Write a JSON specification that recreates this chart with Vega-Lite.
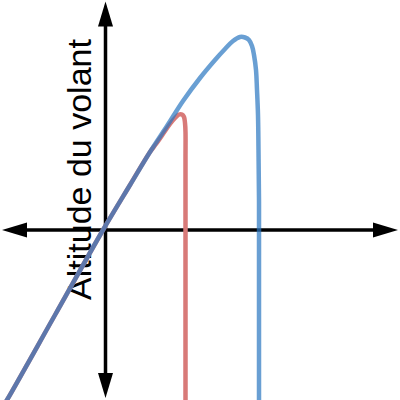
{
  "$schema": "https://vega.github.io/schema/vega-lite/v6.json",
  "description": "Trajectoires du volant : deux courbes partant de l'origine, axes fléchés.",
  "width": 400,
  "height": 400,
  "padding": 0,
  "autosize": {"type": "fit", "contains": "padding"},
  "config": {"view": {"stroke": null}, "background": "#ffffff"},
  "datasets": {
    "trajectoires": [
      {"serie": "rouge", "x": -110.5, "y": -190},
      {"serie": "rouge", "x": -98.5, "y": -170},
      {"serie": "rouge", "x": -50.5, "y": -85},
      {"serie": "rouge", "x": -2.5, "y": 0},
      {"serie": "rouge", "x": 24.5, "y": 45},
      {"serie": "rouge", "x": 44.5, "y": 78},
      {"serie": "rouge", "x": 50.5, "y": 86},
      {"serie": "rouge", "x": 57.5, "y": 96},
      {"serie": "rouge", "x": 64.5, "y": 106},
      {"serie": "rouge", "x": 69.5, "y": 112},
      {"serie": "rouge", "x": 73.5, "y": 115.5},
      {"serie": "rouge", "x": 76.5, "y": 115.5},
      {"serie": "rouge", "x": 78.5, "y": 113},
      {"serie": "rouge", "x": 79.5, "y": 107},
      {"serie": "rouge", "x": 80, "y": 98},
      {"serie": "rouge", "x": 80, "y": 70},
      {"serie": "rouge", "x": 80, "y": -190},
      {"serie": "bleu", "x": -110.5, "y": -190},
      {"serie": "bleu", "x": -98.5, "y": -170},
      {"serie": "bleu", "x": -50.5, "y": -85},
      {"serie": "bleu", "x": -2.5, "y": 0},
      {"serie": "bleu", "x": 24.5, "y": 45},
      {"serie": "bleu", "x": 44.5, "y": 78},
      {"serie": "bleu", "x": 61.5, "y": 104},
      {"serie": "bleu", "x": 77.5, "y": 129},
      {"serie": "bleu", "x": 94.5, "y": 152},
      {"serie": "bleu", "x": 109.5, "y": 170},
      {"serie": "bleu", "x": 119.5, "y": 181},
      {"serie": "bleu", "x": 127.5, "y": 189},
      {"serie": "bleu", "x": 134.5, "y": 193},
      {"serie": "bleu", "x": 139.5, "y": 192.5},
      {"serie": "bleu", "x": 143.5, "y": 190},
      {"serie": "bleu", "x": 146.5, "y": 184},
      {"serie": "bleu", "x": 148.5, "y": 175},
      {"serie": "bleu", "x": 150.5, "y": 160},
      {"serie": "bleu", "x": 151.5, "y": 140},
      {"serie": "bleu", "x": 152.5, "y": 115},
      {"serie": "bleu", "x": 153, "y": 80},
      {"serie": "bleu", "x": 153.5, "y": 30},
      {"serie": "bleu", "x": 153.5, "y": -40},
      {"serie": "bleu", "x": 153.5, "y": -190}
    ],
    "axes": [
      {"x": 0, "y": -150, "x2": 0, "y2": 210},
      {"x": -85.5, "y": 0, "x2": 274.5, "y2": 0}
    ],
    "fleches": [
      {"dir": "haut", "x": 0, "y": 216},
      {"dir": "bas", "x": 0, "y": -155.5},
      {"dir": "gauche", "x": -91, "y": 0},
      {"dir": "droite", "x": 280, "y": 0}
    ]
  },
  "encoding": {
    "x": {
      "field": "x",
      "type": "quantitative",
      "scale": {"domain": [-105.5, 294.5], "nice": false, "zero": false},
      "axis": null
    },
    "y": {
      "field": "y",
      "type": "quantitative",
      "scale": {"domain": [-170, 230], "nice": false, "zero": false},
      "axis": {
        "title": "Altitude du volant",
        "domain": false,
        "ticks": false,
        "labels": false,
        "grid": false,
        "titleX": 90,
        "titleY": 169,
        "titleAngle": -90,
        "titleAlign": "center",
        "titleBaseline": "alphabetic",
        "titleFont": "Liberation Sans",
        "titleFontSize": 34,
        "titleFontWeight": "normal",
        "titleColor": "#000000"
      }
    }
  },
  "layer": [
    {
      "data": {"name": "axes"},
      "mark": {"type": "rule", "color": "#000000", "strokeWidth": 3.5},
      "encoding": {
        "x2": {"field": "x2"},
        "y2": {"field": "y2"}
      }
    },
    {
      "data": {"name": "fleches"},
      "mark": {"type": "point", "filled": true, "color": "#000000", "opacity": 1, "size": 625, "strokeWidth": 0},
      "encoding": {
        "shape": {
          "field": "dir",
          "type": "nominal",
          "scale": {
            "domain": ["haut", "bas", "gauche", "droite"],
            "range": [
              "M0,-1L0.6,1L-0.6,1Z",
              "M0,1L0.6,-1L-0.6,-1Z",
              "M-1,0L1,-0.6L1,0.6Z",
              "M1,0L-1,-0.6L-1,0.6Z"
            ]
          },
          "legend": null
        }
      }
    },
    {
      "data": {"name": "trajectoires"},
      "transform": [{"filter": "datum.serie === 'rouge'"}],
      "mark": {"type": "line", "color": "#d87a78", "strokeWidth": 4.5, "interpolate": "catmull-rom", "clip": true}
    },
    {
      "data": {"name": "trajectoires"},
      "transform": [{"filter": "datum.serie === 'bleu'"}],
      "mark": {"type": "line", "color": "#2a76c0", "opacity": 0.7, "strokeWidth": 4.5, "interpolate": "catmull-rom", "clip": true}
    }
  ]
}
